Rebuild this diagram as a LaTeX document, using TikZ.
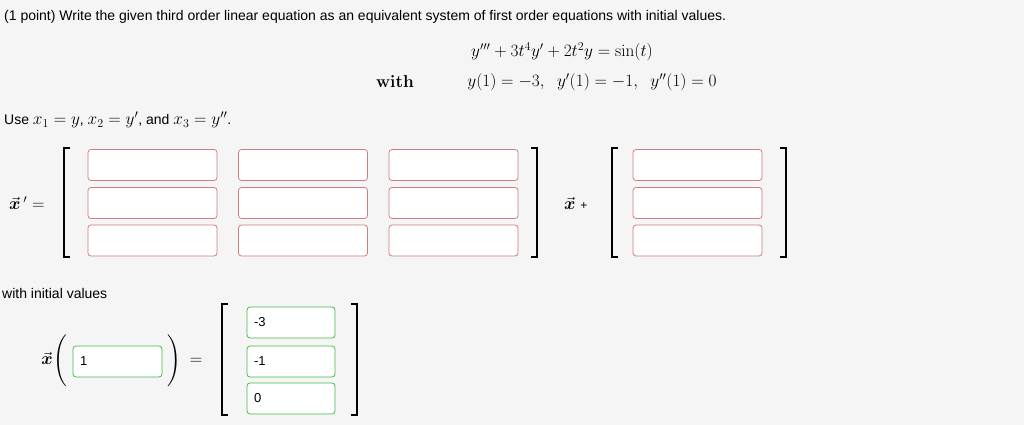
\documentclass[tikz,border=0pt]{standalone}
\usepackage{amsmath}
\usepackage[no-math]{fontspec}
\setmainfont{Liberation Sans}
\begin{document}
\begin{tikzpicture}[x=1pt,y=-1pt,
  inbox/.style={draw=red!45!gray!70, line width=0.8pt, rounded corners=3pt, fill=white, minimum width=#1, minimum height=31pt, inner sep=0pt},
  okbox/.style={draw=green!45!gray, line width=0.8pt, rounded corners=3pt, fill=white, minimum width=#1, minimum height=31pt, inner sep=0pt, font=\fontsize{13}{15}\selectfont, text width=#1-14pt, align=left},
  txt/.style={anchor=west, inner sep=0pt, font=\fontsize{14}{16}\selectfont},
  mth/.style={inner sep=0pt, font=\fontsize{17}{20}\selectfont},
  brk/.style={line width=1.3pt}]
\fill[gray!8] (0,0) rectangle (1024,425);
\useasboundingbox (0,0) rectangle (1024,425);
\node[txt] (title) at (4,17) {(1 point) Write the given third order linear equation as an equivalent system of first order equations with initial values.};
\node[mth] (eq) at (562,52) {$y''' + 3t^4y' + 2t^2y = \sin(t)$};
\node[mth] (with) at (395,82) {$\mathbf{with}$};
\node[mth] (ic) at (592,82) {$y(1) = -3,\;\; y'(1) = -1,\;\; y''(1) = 0$};
\node[txt] (use) at (4,120) {Use {\fontsize{17}{20}\selectfont$x_1 = y$}, {\fontsize{17}{20}\selectfont$x_2 = y'$}, and {\fontsize{17}{20}\selectfont$x_3 = y''$}.};
\node[mth, anchor=west] (xp) at (9,203) {$\vec{\boldsymbol{x}}\,' =$};
\draw[brk] (70,148) -- (64,148) -- (64,257) -- (70,257);
\draw[brk] (531,148) -- (537,148) -- (537,257) -- (531,257);
\foreach \c/\x in {1/152.5,2/303,3/453.5}
  \foreach \r/\y in {1/165,2/203,3/240.5}
    \node[inbox=129pt] (m\c\r) at (\x,\y) {};
\node[mth, anchor=west] (xplus) at (564,203) {$\vec{\boldsymbol{x}}$ {\fontsize{12}{14}\selectfont +}};
\draw[brk] (618,148) -- (612,148) -- (612,257) -- (618,257);
\draw[brk] (780,148) -- (786,148) -- (786,257) -- (780,257);
\foreach \r/\y in {1/165,2/203,3/240.5}
  \node[inbox=129pt] (f\r) at (697.5,\y) {};
\node[txt] (wiv) at (2,293) {with initial values};
\node[mth] (xv) at (47,358) {$\vec{\boldsymbol{x}}$};
\node[inner sep=0pt, scale=1, font=\fontsize{17}{20}\selectfont] (lp) at (60,361) {$\Bigg($};
\node[okbox=89pt] (t0) at (117.5,361.5) {1};
\node[inner sep=0pt, font=\fontsize{17}{20}\selectfont] (rp) at (174,361) {$\Bigg)$};
\node[mth] (eq2) at (196,361) {$=$};
\draw[brk] (228,304) -- (222,304) -- (222,415) -- (228,415);
\draw[brk] (351,304) -- (357,304) -- (357,415) -- (351,415);
\node[okbox=88pt] (v1) at (291,322.5) {-3};
\node[okbox=88pt] (v2) at (291,361.5) {-1};
\node[okbox=88pt] (v3) at (291,398.5) {0};
\end{tikzpicture}
\end{document}
